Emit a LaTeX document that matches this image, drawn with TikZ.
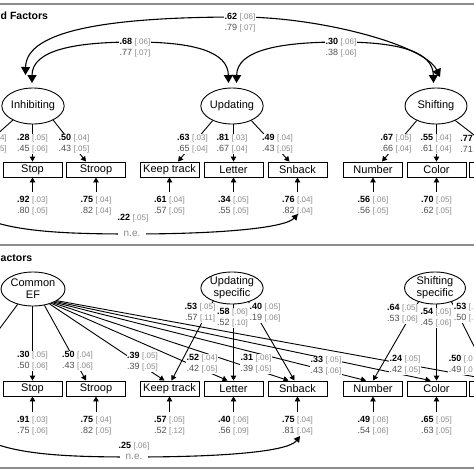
\documentclass[tikz,border=0pt]{standalone}
\usepackage{fontspec}
\setmainfont{Liberation Sans}
\usetikzlibrary{arrows.meta,shapes.geometric}
\definecolor{sepc}{HTML}{8C8C8C}
\definecolor{brk}{HTML}{8A8A8A}
\definecolor{nb}{HTML}{505050}
\newcommand{\bkf}[1]{{\fontsize{8}{11}\selectfont\color{brk}#1}}
\newcommand{\bk}[1]{\bkf{[#1]}}
\newcommand{\lab}[4]{\textbf{#1} \bk{#2}\\{\color{nb}#3} \bk{#4}}
\begin{document}
\begin{tikzpicture}[x=1pt,y=-1pt,
  lat/.style={ellipse,draw,fill=white,line width=0.9pt,minimum width=62pt,minimum height=36pt,inner sep=0pt,font=\fontsize{11}{12}\selectfont,align=center},
  obs/.style={rectangle,draw,fill=white,line width=0.9pt,minimum width=59pt,minimum height=15pt,inner sep=0pt,font=\fontsize{11}{12}\selectfont},
  lbl/.style={fill=white,inner sep=0.6pt,align=center,font=\fontsize{9}{11}\selectfont},
  ld/.style={line width=0.9pt,-{Triangle[length=5pt,width=5.5pt]}},
  ln/.style={line width=0.9pt},
  cor/.style={line width=1.1pt,-{Triangle[length=8pt,width=9pt]}},
  corl/.style={line width=1.1pt,-{Triangle[length=6pt,width=6.5pt]}},
  nelbl/.style={fill=white,inner xsep=6pt,inner ysep=1pt,text=brk,font=\fontsize{10}{12}\selectfont},
  sepl/.style={draw=sepc,line width=1.6pt},
  ttl/.style={font=\fontsize{10.5}{12}\selectfont\bfseries,inner sep=0pt,anchor=west}
]
\useasboundingbox (0,0) rectangle (474,474);
\clip (0,0) rectangle (474,474);

% separators and titles
\draw[sepl] (-5,4) -- (480,4);
\draw[sepl] (-5,245) -- (480,245);
\draw[sepl] (-5,468) -- (480,468);
\node[ttl] (title1) at (0.5,16) {d Factors};
\node[ttl] (title2) at (0.5,258) {actors};

% ===== top panel =====
\node[lat] (inh) at (33,106) {Inhibiting};
\node[lat] (upd) at (232,106) {Updating};
\node[lat] (shf) at (436,106) {Shifting};

\node[obs] (stop1) at (32.5,169.5) {Stop};
\node[obs] (stroop1) at (96,169.5) {Stroop};
\node[obs] (keep1) at (169.5,169.5) {Keep track};
\node[obs] (letter1) at (233.5,169.5) {Letter};
\node[obs] (snb1) at (297.5,169.5) {Snback};
\node[obs] (num1) at (373,169.5) {Number};
\node[obs] (col1) at (436.5,169.5) {Color};
\node[obs] (rt1) at (498.5,169.5) {};

\coordinate (offA) at (-25,154);
\coordinate (offD) at (500,155);
\draw[ln] (inh.-145) -- (offA);
\draw[ld] (stop1.north |- inh.south) -- (stop1.north);
\draw[ld] (inh.-35) -- ([xshift=-10pt]stroop1.north);
\draw[ld] (upd.-143) -- ([xshift=8.5pt]keep1.north);
\draw[ld] (letter1.north |- upd.south) -- (letter1.north);
\draw[ld] (upd.-37) -- ([xshift=-8pt]snb1.north);
\draw[ld] (shf.-143) -- ([xshift=9pt]num1.north);
\draw[ld] (col1.north |- shf.south) -- (col1.north);
\draw[ln] (shf.-37) -- (offD);

\node[lbl,anchor=east,align=right] (l0) at (7.5,144) {\bkf{4]}\\\bkf{5]}};
\node[lbl] (l1) at (32.5,144) {\lab{.28}{.05}{.45}{.06}};
\node[lbl] (l2) at (74,144) {\lab{.50}{.04}{.43}{.05}};
\node[lbl] (l3) at (192.5,144) {\lab{.63}{.03}{.65}{.04}};
\node[lbl] (l4) at (232,144) {\lab{.81}{.03}{.67}{.04}};
\node[lbl] (l5) at (277.5,144) {\lab{.49}{.04}{.43}{.05}};
\node[lbl] (l6) at (396,144) {\lab{.67}{.05}{.66}{.04}};
\node[lbl] (l7) at (436,144) {\lab{.55}{.04}{.61}{.04}};
\node[lbl,anchor=west,align=left] (l8) at (459.5,144) {\textbf{.77}\\{\color{nb}.71}};

\node[lbl] (r1) at (32.5,206) {\lab{.92}{.03}{.80}{.05}};
\node[lbl] (r2) at (96,206) {\lab{.75}{.04}{.82}{.04}};
\node[lbl] (r3) at (169.5,206) {\lab{.61}{.04}{.57}{.05}};
\node[lbl] (r4) at (233.5,206) {\lab{.34}{.05}{.55}{.05}};
\node[lbl] (r5) at (297.5,206) {\lab{.76}{.04}{.82}{.04}};
\node[lbl] (r6) at (373,206) {\lab{.56}{.06}{.56}{.05}};
\node[lbl] (r7) at (436.5,206) {\lab{.70}{.05}{.62}{.05}};
\draw[ld,shorten <=4pt] (r1.north) -- (stop1.south);
\draw[ld,shorten <=4pt] (r2.north) -- (stroop1.south);
\draw[ld,shorten <=4pt] (r3.north) -- (keep1.south);
\draw[ld,shorten <=4pt] (r4.north) -- (letter1.south);
\draw[ld,shorten <=4pt] (r5.north) -- (snb1.south);
\draw[ld,shorten <=4pt] (r6.north) -- (num1.south);
\draw[ld,shorten <=4pt] (r7.north) -- (col1.south);

% correlation arcs
\coordinate (a62) at (240,17);
\coordinate (a68) at (135,42);
\coordinate (a30) at (341,42);
\coordinate (tA) at (25.5,75);
\coordinate (tB) at (440,77);
\coordinate (tC) at (32,83);
\coordinate (tD) at (228.5,83);
\coordinate (tE) at (236.5,83);
\coordinate (tF) at (433.5,83);
\draw[cor] (a62) .. controls (110,17) and (26,30) .. (tA);
\draw[cor] (a62) .. controls (320,17) and (425,45) .. (tB);
\draw[cor] (a68) .. controls (75,42) and (32,50) .. (tC);
\draw[cor] (a68) .. controls (195,42) and (228,52) .. (tD);
\draw[cor] (a30) .. controls (280,42) and (237,50) .. (tE);
\draw[cor] (a30) .. controls (400,42) and (433,52) .. (tF);
\node[lbl] (l62) at (240,23) {\lab{.62}{.06}{.79}{.07}};
\node[lbl] (l68) at (135,48) {\lab{.68}{.06}{.77}{.07}};
\node[lbl] (l30) at (341,48) {\lab{.30}{.06}{.38}{.06}};

% residual correlation (top)
\coordinate (neL1) at (-12,220);
\coordinate (ne1) at (132,234);
\coordinate (tG) at (298,214);
\draw[corl] (neL1) .. controls (20,232) and (70,234) .. (ne1) .. controls (220,234) and (285,228) .. (tG);
\node[lbl] (l22) at (133,218) {\textbf{.22} \bk{.05}};
\node[nelbl] (nea) at (132,234) {n.e.};

% ===== bottom panel =====
\node[lat,minimum width=64pt,minimum height=34pt] (cef) at (33,289) {Common\\EF};
\node[lat,minimum width=61pt,minimum height=32pt] (usp) at (232,288) {Updating\\specific};
\node[lat,minimum width=61pt,minimum height=32pt] (ssp) at (435,288) {Shifting\\specific};

\node[obs] (stop2) at (32.5,388.5) {Stop};
\node[obs] (stroop2) at (96,388.5) {Stroop};
\node[obs] (keep2) at (169.5,388.5) {Keep track};
\node[obs] (letter2) at (233.5,388.5) {Letter};
\node[obs] (snb2) at (297.5,388.5) {Snback};
\node[obs] (num2) at (373,388.5) {Number};
\node[obs] (col2) at (436.5,388.5) {Color};
\node[obs] (rt2) at (498.5,388.5) {};

\coordinate (offB) at (-20,355);
\coordinate (offC) at (482,362);
\draw[ln] (cef.-135) -- (offB);
\draw[ld] (stop2.north |- cef.south) -- (stop2.north);
\draw[ld] (cef.-55) -- ([xshift=-10pt]stroop2.north);
\draw[ld] (cef.-42) -- ([xshift=-5pt]keep2.north);
\draw[ld] (cef.-38) -- ([xshift=-6pt]letter2.north);
\draw[ld] (cef.-35) -- ([xshift=-9pt]snb2.north);
\draw[ld] (cef.-32) -- ([xshift=-7pt]num2.north);
\draw[ld] (cef.-29) -- ([xshift=-6pt]col2.north);
\draw[ld] (cef.-26) -- ([xshift=-3pt]rt2.north);

\draw[ld] (usp.-145) -- ([xshift=2pt]keep2.north);
\draw[ld] (letter2.north |- usp.south) -- (letter2.north);
\draw[ld] (usp.-40) -- ([xshift=-3pt]snb2.north);
\draw[ld] (ssp.-140) -- (num2.north);
\draw[ld] (col2.north |- ssp.south) -- (col2.north);
\draw[ln] (ssp.-40) -- (offC);

\node[lbl] (m1) at (32.5,361) {\lab{.30}{.05}{.50}{.06}};
\node[lbl] (m2) at (77.5,361) {\lab{.50}{.04}{.43}{.06}};
\node[lbl] (m3) at (142.5,362) {\lab{.39}{.05}{.39}{.05}};
\node[lbl] (m4) at (202,364) {\lab{.52}{.04}{.42}{.05}};
\node[lbl] (m5) at (256,364) {\lab{.31}{.06}{.39}{.05}};
\node[lbl] (m6) at (326,366) {\lab{.33}{.05}{.43}{.06}};
\node[lbl] (m7) at (405,365) {\lab{.24}{.05}{.42}{.05}};
\node[lbl,anchor=west,align=left] (m8) at (448,365) {\textbf{.50} \bkf{[.0}\\{\color{nb}.49} \bkf{[.0}};
\node[lbl] (u1) at (200,313) {\lab{.53}{.05}{.57}{.11}};
\node[lbl] (u2) at (232.5,318) {\lab{.58}{.06}{.52}{.10}};
\node[lbl] (u3) at (265,313) {\lab{.40}{.05}{.19}{.06}};
\node[lbl] (s1) at (402.5,314) {\lab{.64}{.05}{.53}{.06}};
\node[lbl] (s2) at (436,318) {\lab{.54}{.05}{.45}{.06}};
\node[lbl,anchor=west,align=left] (s3) at (453,313) {\textbf{.53} \bkf{[.}\\{\color{nb}.50} \bkf{[.}};

\node[lbl] (q1) at (32.5,426) {\lab{.91}{.03}{.75}{.06}};
\node[lbl] (q2) at (96,426) {\lab{.75}{.04}{.82}{.05}};
\node[lbl] (q3) at (169.5,426) {\lab{.57}{.05}{.52}{.12}};
\node[lbl] (q4) at (233.5,426) {\lab{.40}{.06}{.56}{.09}};
\node[lbl] (q5) at (297.5,426) {\lab{.75}{.04}{.81}{.04}};
\node[lbl] (q6) at (373,426) {\lab{.49}{.06}{.54}{.06}};
\node[lbl] (q7) at (436.5,426) {\lab{.65}{.05}{.63}{.05}};
\draw[ld,shorten <=4pt] (q1.north) -- (stop2.south);
\draw[ld,shorten <=4pt] (q2.north) -- (stroop2.south);
\draw[ld,shorten <=4pt] (q3.north) -- (keep2.south);
\draw[ld,shorten <=4pt] (q4.north) -- (letter2.south);
\draw[ld,shorten <=4pt] (q5.north) -- (snb2.south);
\draw[ld,shorten <=4pt] (q6.north) -- (num2.south);
\draw[ld,shorten <=4pt] (q7.north) -- (col2.south);

\coordinate (neL2) at (-12,441);
\coordinate (ne2) at (134,457);
\coordinate (tH) at (300,436);
\draw[corl] (neL2) .. controls (20,455) and (70,457) .. (ne2) .. controls (220,457) and (288,452) .. (tH);
\node[lbl] (l25) at (134,446) {\textbf{.25} \bk{.06}};
\node[nelbl] (neb) at (134,457) {n.e.};
\end{tikzpicture}
\end{document}
